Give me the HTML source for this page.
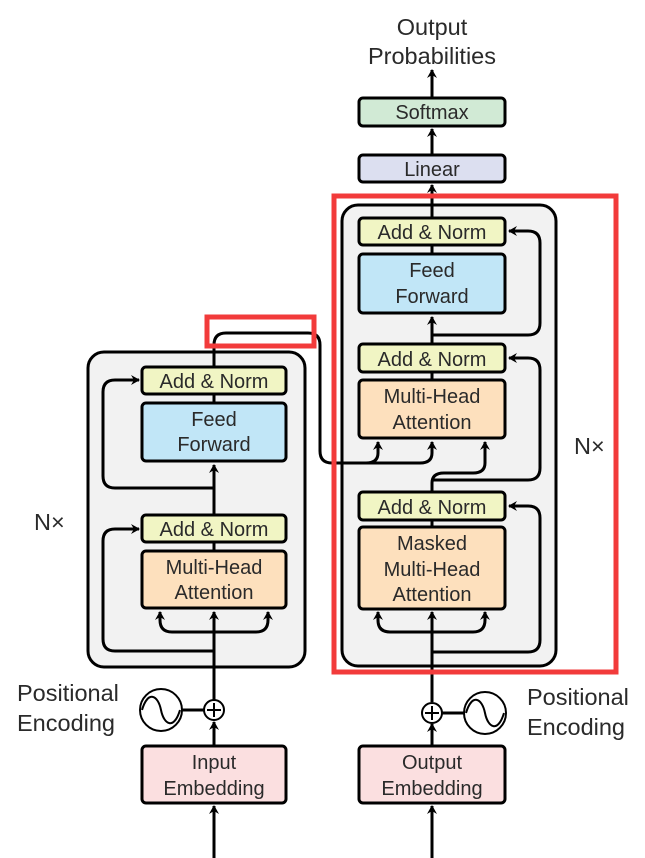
<!DOCTYPE html>
<html><head><meta charset="utf-8"><style>
html,body{margin:0;padding:0;background:#fff;}
svg{display:block;}
text{font-family:"Liberation Sans",sans-serif;fill:#2a2a2a;}
</style></head><body>
<svg width="645" height="858" viewBox="0 0 645 858" xmlns="http://www.w3.org/2000/svg">
<defs>
<marker id="a" markerWidth="10" markerHeight="10" refX="8" refY="5" orient="auto" markerUnits="userSpaceOnUse">
<path d="M0,0 L9,5 L0,10 L3,5 Z" fill="#000"/></marker>
</defs>
<g stroke="#000" stroke-width="3" fill="none">
<rect x="88" y="352" width="217" height="315" rx="16" fill="#f2f2f2"/>
<rect x="342" y="205" width="214" height="461" rx="16" fill="#f2f2f2"/>
</g>
<g stroke="#000" stroke-width="3" fill="none">
<line x1="214" y1="858" x2="214" y2="806" marker-end="url(#a)"/>
<line x1="214" y1="746" x2="214" y2="722" marker-end="url(#a)"/>
<line x1="214" y1="700" x2="214" y2="612" marker-end="url(#a)"/>
<path d="M214,632 L172,632 Q160,632 160,620 L160,612" marker-end="url(#a)"/>
<path d="M214,632 L256,632 Q268,632 268,620 L268,612" marker-end="url(#a)"/>
<path d="M214,651 L115,651 Q103,651 103,639 L103,541 Q103,529 115,529 L139,529" marker-end="url(#a)"/>
<line x1="214" y1="515" x2="214" y2="465" marker-end="url(#a)"/>
<path d="M214,488 L115,488 Q103,488 103,476 L103,392 Q103,380 115,380 L139,380" marker-end="url(#a)"/>
<line x1="214" y1="542" x2="214" y2="551"/>
<line x1="214" y1="394" x2="214" y2="403"/>
<path d="M214,367 L214,345 Q214,333 226,333 L308,333 Q320,333 320,345 L320,451 Q320,463 332,463 L420,463"/>
<path d="M366,463 Q378,463 378,453 L378,442" marker-end="url(#a)"/>
<path d="M420,463 Q432,463 432,453 L432,442" marker-end="url(#a)"/>
<line x1="432" y1="858" x2="432" y2="806" marker-end="url(#a)"/>
<line x1="432" y1="746" x2="432" y2="724" marker-end="url(#a)"/>
<line x1="432" y1="702" x2="432" y2="612" marker-end="url(#a)"/>
<path d="M432,632 L390,632 Q378,632 378,620 L378,612" marker-end="url(#a)"/>
<path d="M432,632 L473,632 Q485,632 485,620 L485,612" marker-end="url(#a)"/>
<path d="M432,652 L528,652 Q540,652 540,640 L540,518 Q540,506 528,506 L509,506" marker-end="url(#a)"/>
<line x1="432" y1="520" x2="432" y2="527"/>
<path d="M432,492 L432,483 Q432,473 444,473 L473,473 Q485,473 485,463 L485,442" marker-end="url(#a)"/>
<path d="M432,480 L528,480 Q540,480 540,468 L540,370 Q540,358 528,358 L509,358" marker-end="url(#a)"/>
<line x1="432" y1="372" x2="432" y2="380"/>
<line x1="432" y1="344" x2="432" y2="317" marker-end="url(#a)"/>
<path d="M432,335 L528,335 Q540,335 540,323 L540,243 Q540,231 528,231 L509,231" marker-end="url(#a)"/>
<line x1="432" y1="245" x2="432" y2="254"/>
<line x1="432" y1="218" x2="432" y2="185" marker-end="url(#a)"/>
<line x1="432" y1="155" x2="432" y2="129" marker-end="url(#a)"/>
<line x1="432" y1="98" x2="432" y2="70" marker-end="url(#a)"/>
<line x1="182" y1="710" x2="204" y2="710"/>
<line x1="442" y1="713" x2="464" y2="713"/>
</g>
<g stroke="#000" stroke-width="3">
<rect x="142" y="367" width="144" height="27" rx="4" fill="#f1f5c4"/>
<rect x="142" y="403" width="144" height="58" rx="4" fill="#c1e6f7"/>
<rect x="142" y="515" width="144" height="27" rx="4" fill="#f1f5c4"/>
<rect x="142" y="551" width="144" height="57" rx="4" fill="#fde0bd"/>
<rect x="142" y="746" width="144" height="57" rx="4" fill="#fbdfe0"/>
<rect x="359" y="218" width="146" height="27" rx="4" fill="#f1f5c4"/>
<rect x="359" y="254" width="146" height="59" rx="4" fill="#c1e6f7"/>
<rect x="359" y="344" width="146" height="28" rx="4" fill="#f1f5c4"/>
<rect x="359" y="380" width="146" height="58" rx="4" fill="#fde0bd"/>
<rect x="359" y="492" width="146" height="28" rx="4" fill="#f1f5c4"/>
<rect x="359" y="527" width="146" height="82" rx="4" fill="#fde0bd"/>
<rect x="359" y="746" width="146" height="57" rx="4" fill="#fbdfe0"/>
<rect x="359" y="155" width="146" height="27" rx="4" fill="#dcdff0"/>
<rect x="359" y="98" width="146" height="28" rx="4" fill="#d1ead5"/>
</g>
<g stroke="#000" stroke-width="2" fill="#fff">
<circle cx="214" cy="710" r="10"/>
<circle cx="432" cy="713" r="10"/>
<circle cx="161" cy="710" r="21"/>
<circle cx="485" cy="713" r="21"/>
</g>
<g stroke="#000" stroke-width="2" fill="none">
<path d="M207,710 H221 M214,703 V717"/>
<path d="M425,713 H439 M432,706 V720"/>
<path d="M142,710 C148,690 158,695 161,710 C164,725 174,730 180,710"/>
<path d="M466,713 C472,693 482,698 485,713 C488,728 498,733 504,713"/>
</g>
<g stroke="#f23b3b" stroke-width="5" fill="none">
<rect x="207" y="317" width="107" height="29"/>
<rect x="334" y="196" width="282" height="476"/>
</g>
<g font-size="20" text-anchor="middle">
<text x="214" y="388">Add &amp; Norm</text>
<text x="214" y="426">Feed</text>
<text x="214" y="451">Forward</text>
<text x="214" y="536">Add &amp; Norm</text>
<text x="214" y="574">Multi-Head</text>
<text x="214" y="599">Attention</text>
<text x="214" y="769">Input</text>
<text x="214" y="795">Embedding</text>
<text x="432" y="239">Add &amp; Norm</text>
<text x="432" y="277">Feed</text>
<text x="432" y="303">Forward</text>
<text x="432" y="366">Add &amp; Norm</text>
<text x="432" y="403">Multi-Head</text>
<text x="432" y="429">Attention</text>
<text x="432" y="514">Add &amp; Norm</text>
<text x="432" y="550">Masked</text>
<text x="432" y="576">Multi-Head</text>
<text x="432" y="601">Attention</text>
<text x="432" y="769">Output</text>
<text x="432" y="795">Embedding</text>
<text x="432" y="176">Linear</text>
<text x="432" y="119">Softmax</text>
</g>
<g font-size="23.5">
<text x="432" y="35" text-anchor="middle">Output</text>
<text x="432" y="64" text-anchor="middle">Probabilities</text>
<text x="17" y="701">Positional</text>
<text x="17" y="731">Encoding</text>
<text x="527" y="705">Positional</text>
<text x="527" y="735">Encoding</text>
<text x="34" y="530">N×</text>
<text x="574" y="454">N×</text>
</g>
</svg>
</body></html>
